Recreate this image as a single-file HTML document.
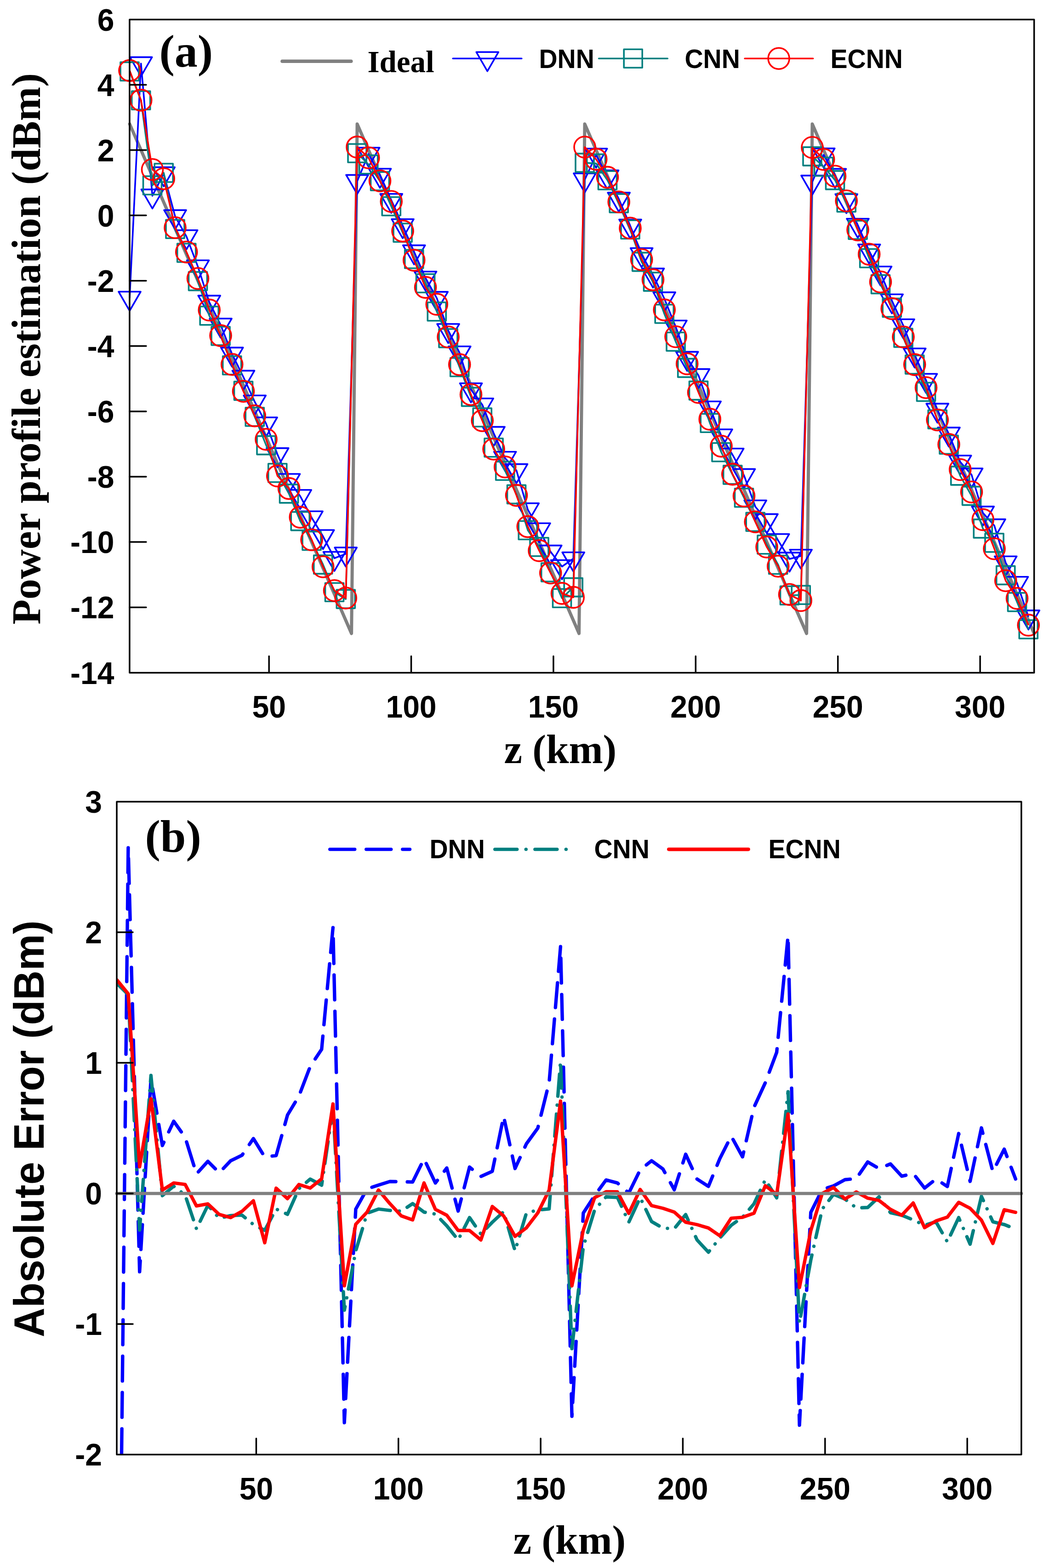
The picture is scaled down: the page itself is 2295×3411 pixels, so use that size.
<!DOCTYPE html>
<html><head><meta charset="utf-8"><title>Power profile estimation</title>
<style>html,body{margin:0;padding:0;background:#fff;}svg{display:block;}</style></head>
<body><svg width="2295" height="3411" viewBox="0 0 2295 3411"><polyline fill="none" stroke="#808080" stroke-width="7" stroke-linejoin="round" stroke-linecap="round" points="282.0,269.7 764.6,1378.0 777.0,269.7 1259.6,1378.0 1272.0,269.7 1754.6,1378.0 1767.0,269.7 2249.6,1378.0"/>
<polyline fill="none" stroke="#0000ff" stroke-width="3.6" stroke-linejoin="round" points="282.0,648.4 306.7,138.2 331.5,426.0 356.2,377.7 381.0,470.9 405.7,514.6 430.5,580.1 455.2,657.0 480.0,706.9 504.7,770.0 529.5,820.3 554.2,874.2 579.0,921.9 603.7,988.8 628.5,1044.8 653.2,1079.6 678.0,1126.2 702.7,1166.8 727.5,1214.3 752.2,1204.9 777.0,394.4 801.7,335.0 826.5,380.9 851.2,435.6 876.0,490.6 900.7,547.5 925.5,604.5 950.2,648.7 975.0,718.7 999.7,767.4 1024.5,847.7 1049.2,880.5 1074.0,942.5 1098.7,996.6 1123.5,1023.5 1148.2,1108.7 1173.0,1152.1 1197.7,1200.4 1222.5,1232.4 1247.2,1215.3 1272.0,390.9 1296.7,337.2 1321.5,384.5 1346.2,432.9 1371.0,491.3 1395.7,553.6 1420.5,597.9 1445.2,649.8 1470.0,711.1 1494.7,779.2 1519.5,816.7 1544.2,887.1 1569.0,947.9 1593.7,989.7 1618.5,1034.2 1643.2,1102.4 1668.0,1132.3 1692.7,1175.7 1717.5,1216.0 1742.2,1209.5 1767.0,395.8 1791.7,336.8 1816.5,381.2 1841.2,436.1 1866.0,489.6 1890.7,545.8 1915.5,593.6 1940.2,654.0 1965.0,708.3 1989.7,771.8 2014.5,827.2 2039.2,892.0 2064.0,943.9 2088.7,1004.8 2113.5,1032.8 2138.2,1115.7 2163.0,1143.4 2187.7,1224.1 2212.5,1268.7 2237.2,1341.8"/>
<path fill="none" stroke="#0000ff" stroke-width="3.6" stroke-linejoin="round" d="M258.0,634.5L306.0,634.5L282.0,676.1ZM282.7,124.4L330.7,124.4L306.7,165.9ZM307.5,412.1L355.5,412.1L331.5,453.7ZM332.2,363.8L380.2,363.8L356.2,405.4ZM357.0,457.1L405.0,457.1L381.0,498.7ZM381.7,500.7L429.7,500.7L405.7,542.3ZM406.5,566.3L454.5,566.3L430.5,607.9ZM431.2,643.1L479.2,643.1L455.2,684.7ZM456.0,693.0L504.0,693.0L480.0,734.6ZM480.7,756.1L528.7,756.1L504.7,797.7ZM505.5,806.4L553.5,806.4L529.5,848.0ZM530.2,860.3L578.2,860.3L554.2,901.9ZM555.0,908.0L603.0,908.0L579.0,949.6ZM579.7,974.9L627.7,974.9L603.7,1016.5ZM604.5,1031.0L652.5,1031.0L628.5,1072.5ZM629.2,1065.8L677.2,1065.8L653.2,1107.3ZM654.0,1112.3L702.0,1112.3L678.0,1153.9ZM678.7,1153.0L726.7,1153.0L702.7,1194.5ZM703.5,1200.5L751.5,1200.5L727.5,1242.1ZM728.2,1191.0L776.2,1191.0L752.2,1232.6ZM753.0,380.6L801.0,380.6L777.0,422.1ZM777.7,321.2L825.7,321.2L801.7,362.7ZM802.5,367.0L850.5,367.0L826.5,408.6ZM827.2,421.8L875.2,421.8L851.2,463.3ZM852.0,476.7L900.0,476.7L876.0,518.3ZM876.7,533.6L924.7,533.6L900.7,575.2ZM901.5,590.7L949.5,590.7L925.5,632.2ZM926.2,634.9L974.2,634.9L950.2,676.4ZM951.0,704.8L999.0,704.8L975.0,746.4ZM975.7,753.5L1023.7,753.5L999.7,795.1ZM1000.5,833.8L1048.5,833.8L1024.5,875.4ZM1025.2,866.7L1073.2,866.7L1049.2,908.3ZM1050.0,928.6L1098.0,928.6L1074.0,970.2ZM1074.7,982.7L1122.7,982.7L1098.7,1024.3ZM1099.5,1009.6L1147.5,1009.6L1123.5,1051.2ZM1124.2,1094.8L1172.2,1094.8L1148.2,1136.4ZM1149.0,1138.2L1197.0,1138.2L1173.0,1179.8ZM1173.7,1186.6L1221.7,1186.6L1197.7,1228.1ZM1198.5,1218.5L1246.5,1218.5L1222.5,1260.1ZM1223.2,1201.5L1271.2,1201.5L1247.2,1243.0ZM1248.0,377.1L1296.0,377.1L1272.0,418.7ZM1272.7,323.3L1320.7,323.3L1296.7,364.9ZM1297.5,370.6L1345.5,370.6L1321.5,412.2ZM1322.2,419.0L1370.2,419.0L1346.2,460.6ZM1347.0,477.5L1395.0,477.5L1371.0,519.0ZM1371.7,539.8L1419.7,539.8L1395.7,581.4ZM1396.5,584.1L1444.5,584.1L1420.5,625.6ZM1421.2,635.9L1469.2,635.9L1445.2,677.5ZM1446.0,697.2L1494.0,697.2L1470.0,738.8ZM1470.7,765.4L1518.7,765.4L1494.7,806.9ZM1495.5,802.9L1543.5,802.9L1519.5,844.5ZM1520.2,873.2L1568.2,873.2L1544.2,914.8ZM1545.0,934.0L1593.0,934.0L1569.0,975.6ZM1569.7,975.8L1617.7,975.8L1593.7,1017.4ZM1594.5,1020.4L1642.5,1020.4L1618.5,1061.9ZM1619.2,1088.5L1667.2,1088.5L1643.2,1130.1ZM1644.0,1118.4L1692.0,1118.4L1668.0,1160.0ZM1668.7,1161.8L1716.7,1161.8L1692.7,1203.4ZM1693.5,1202.1L1741.5,1202.1L1717.5,1243.7ZM1718.2,1195.7L1766.2,1195.7L1742.2,1237.2ZM1743.0,381.9L1791.0,381.9L1767.0,423.5ZM1767.7,322.9L1815.7,322.9L1791.7,364.5ZM1792.5,367.4L1840.5,367.4L1816.5,408.9ZM1817.2,422.2L1865.2,422.2L1841.2,463.8ZM1842.0,475.7L1890.0,475.7L1866.0,517.3ZM1866.7,531.9L1914.7,531.9L1890.7,573.5ZM1891.5,579.7L1939.5,579.7L1915.5,621.3ZM1916.2,640.2L1964.2,640.2L1940.2,681.8ZM1941.0,694.5L1989.0,694.5L1965.0,736.0ZM1965.7,758.0L2013.7,758.0L1989.7,799.6ZM1990.5,813.3L2038.5,813.3L2014.5,854.9ZM2015.2,878.1L2063.2,878.1L2039.2,919.7ZM2040.0,930.1L2088.0,930.1L2064.0,971.6ZM2064.7,991.0L2112.7,991.0L2088.7,1032.5ZM2089.5,1019.0L2137.5,1019.0L2113.5,1060.5ZM2114.2,1101.9L2162.2,1101.9L2138.2,1143.4ZM2139.0,1129.6L2187.0,1129.6L2163.0,1171.1ZM2163.7,1210.2L2211.7,1210.2L2187.7,1251.8ZM2188.5,1254.8L2236.5,1254.8L2212.5,1296.4ZM2213.2,1327.9L2261.2,1327.9L2237.2,1369.5Z"/>
<polyline fill="none" stroke="#008080" stroke-width="3.6" stroke-linejoin="round" points="282.0,155.4 306.7,218.3 331.5,403.2 356.2,376.0 381.0,498.2 405.7,550.0 430.5,611.6 455.2,686.8 480.0,730.8 504.7,794.7 529.5,850.1 554.2,906.7 579.0,968.6 603.7,1028.7 628.5,1073.9 653.2,1133.6 678.0,1176.5 702.7,1228.1 727.5,1288.3 752.2,1303.1 777.0,333.2 801.7,357.8 826.5,394.1 851.2,448.7 876.0,506.3 900.7,563.5 925.5,616.2 950.2,677.7 975.0,735.6 999.7,798.8 1024.5,863.4 1049.2,908.0 1074.0,973.8 1098.7,1024.3 1123.5,1075.4 1148.2,1153.5 1173.0,1189.8 1197.7,1245.0 1222.5,1301.2 1247.2,1277.6 1272.0,354.1 1296.7,355.6 1321.5,392.2 1346.2,442.1 1371.0,499.2 1395.7,569.6 1420.5,612.9 1445.2,682.8 1470.0,743.3 1494.7,800.4 1519.5,849.6 1544.2,920.2 1569.0,983.7 1593.7,1032.9 1618.5,1082.8 1643.2,1135.2 1668.0,1184.8 1692.7,1228.5 1717.5,1295.2 1742.2,1294.3 1767.0,340.1 1791.7,362.7 1816.5,391.9 1841.2,440.7 1866.0,500.1 1890.7,561.7 1915.5,618.4 1940.2,669.4 1965.0,734.9 1989.7,793.1 2014.5,852.5 2039.2,912.2 2064.0,967.2 2088.7,1034.9 2113.5,1078.6 2138.2,1149.9 2163.0,1180.7 2187.7,1251.4 2212.5,1309.7 2237.2,1369.0"/>
<path fill="none" stroke="#008080" stroke-width="3.6" stroke-linejoin="round" d="M262.0,135.4h40v40h-40ZM286.7,198.3h40v40h-40ZM311.5,383.2h40v40h-40ZM336.2,356.0h40v40h-40ZM361.0,478.2h40v40h-40ZM385.7,530.0h40v40h-40ZM410.5,591.6h40v40h-40ZM435.2,666.8h40v40h-40ZM460.0,710.8h40v40h-40ZM484.7,774.7h40v40h-40ZM509.5,830.1h40v40h-40ZM534.2,886.7h40v40h-40ZM559.0,948.6h40v40h-40ZM583.7,1008.7h40v40h-40ZM608.5,1053.9h40v40h-40ZM633.2,1113.6h40v40h-40ZM658.0,1156.5h40v40h-40ZM682.7,1208.1h40v40h-40ZM707.5,1268.3h40v40h-40ZM732.2,1283.1h40v40h-40ZM757.0,313.2h40v40h-40ZM781.7,337.8h40v40h-40ZM806.5,374.1h40v40h-40ZM831.2,428.7h40v40h-40ZM856.0,486.3h40v40h-40ZM880.7,543.5h40v40h-40ZM905.5,596.2h40v40h-40ZM930.2,657.7h40v40h-40ZM955.0,715.6h40v40h-40ZM979.7,778.8h40v40h-40ZM1004.5,843.4h40v40h-40ZM1029.2,888.0h40v40h-40ZM1054.0,953.8h40v40h-40ZM1078.7,1004.3h40v40h-40ZM1103.5,1055.4h40v40h-40ZM1128.2,1133.5h40v40h-40ZM1153.0,1169.8h40v40h-40ZM1177.7,1225.0h40v40h-40ZM1202.5,1281.2h40v40h-40ZM1227.2,1257.6h40v40h-40ZM1252.0,334.1h40v40h-40ZM1276.7,335.6h40v40h-40ZM1301.5,372.2h40v40h-40ZM1326.2,422.1h40v40h-40ZM1351.0,479.2h40v40h-40ZM1375.7,549.6h40v40h-40ZM1400.5,592.9h40v40h-40ZM1425.2,662.8h40v40h-40ZM1450.0,723.3h40v40h-40ZM1474.7,780.4h40v40h-40ZM1499.5,829.6h40v40h-40ZM1524.2,900.2h40v40h-40ZM1549.0,963.7h40v40h-40ZM1573.7,1012.9h40v40h-40ZM1598.5,1062.8h40v40h-40ZM1623.2,1115.2h40v40h-40ZM1648.0,1164.8h40v40h-40ZM1672.7,1208.5h40v40h-40ZM1697.5,1275.2h40v40h-40ZM1722.2,1274.3h40v40h-40ZM1747.0,320.1h40v40h-40ZM1771.7,342.7h40v40h-40ZM1796.5,371.9h40v40h-40ZM1821.2,420.7h40v40h-40ZM1846.0,480.1h40v40h-40ZM1870.7,541.7h40v40h-40ZM1895.5,598.4h40v40h-40ZM1920.2,649.4h40v40h-40ZM1945.0,714.9h40v40h-40ZM1969.7,773.1h40v40h-40ZM1994.5,832.5h40v40h-40ZM2019.2,892.2h40v40h-40ZM2044.0,947.2h40v40h-40ZM2068.7,1014.9h40v40h-40ZM2093.5,1058.6h40v40h-40ZM2118.2,1129.9h40v40h-40ZM2143.0,1160.7h40v40h-40ZM2167.7,1231.4h40v40h-40ZM2192.5,1289.7h40v40h-40ZM2217.2,1349.0h40v40h-40Z"/>
<polyline fill="none" stroke="#ff0000" stroke-width="3.6" stroke-linejoin="round" points="282.0,153.5 306.7,217.9 331.5,368.8 356.2,388.7 381.0,495.2 405.7,548.2 430.5,605.8 455.2,674.4 480.0,730.1 504.7,792.7 529.5,851.2 554.2,904.6 579.0,955.7 603.7,1035.4 628.5,1062.6 653.2,1125.1 678.0,1174.3 702.7,1233.0 727.5,1284.8 752.2,1301.0 777.0,319.9 801.7,343.3 826.5,393.5 851.2,438.3 876.0,502.6 900.7,566.1 925.5,625.1 950.2,661.9 975.0,733.0 999.7,793.1 1024.5,858.2 1049.2,915.1 1074.0,977.0 1098.7,1015.7 1123.5,1077.6 1148.2,1145.6 1173.0,1197.9 1197.7,1246.5 1222.5,1290.9 1247.2,1299.4 1272.0,320.0 1296.7,346.4 1321.5,385.6 1346.2,439.3 1371.0,496.2 1395.7,564.7 1420.5,608.6 1445.2,674.1 1470.0,732.5 1494.7,791.4 1519.5,853.8 1544.2,911.9 1569.0,970.6 1593.7,1031.6 1618.5,1078.9 1643.2,1135.3 1668.0,1189.9 1692.7,1231.7 1717.5,1293.3 1742.2,1306.4 1767.0,320.8 1791.7,346.7 1816.5,383.3 1841.2,437.0 1866.0,500.1 1890.7,553.1 1915.5,613.3 1940.2,671.4 1965.0,733.0 1989.7,793.1 2014.5,843.2 2039.2,913.5 2064.0,966.7 2088.7,1021.5 2113.5,1070.3 2138.2,1130.4 2163.0,1193.7 2187.7,1263.2 2212.5,1301.7 2237.2,1359.9"/>
<g fill="none" stroke="#ff0000" stroke-width="3.6"><circle cx="282.0" cy="153.5" r="23"/><circle cx="306.7" cy="217.9" r="23"/><circle cx="331.5" cy="368.8" r="23"/><circle cx="356.2" cy="388.7" r="23"/><circle cx="381.0" cy="495.2" r="23"/><circle cx="405.7" cy="548.2" r="23"/><circle cx="430.5" cy="605.8" r="23"/><circle cx="455.2" cy="674.4" r="23"/><circle cx="480.0" cy="730.1" r="23"/><circle cx="504.7" cy="792.7" r="23"/><circle cx="529.5" cy="851.2" r="23"/><circle cx="554.2" cy="904.6" r="23"/><circle cx="579.0" cy="955.7" r="23"/><circle cx="603.7" cy="1035.4" r="23"/><circle cx="628.5" cy="1062.6" r="23"/><circle cx="653.2" cy="1125.1" r="23"/><circle cx="678.0" cy="1174.3" r="23"/><circle cx="702.7" cy="1233.0" r="23"/><circle cx="727.5" cy="1284.8" r="23"/><circle cx="752.2" cy="1301.0" r="23"/><circle cx="777.0" cy="319.9" r="23"/><circle cx="801.7" cy="343.3" r="23"/><circle cx="826.5" cy="393.5" r="23"/><circle cx="851.2" cy="438.3" r="23"/><circle cx="876.0" cy="502.6" r="23"/><circle cx="900.7" cy="566.1" r="23"/><circle cx="925.5" cy="625.1" r="23"/><circle cx="950.2" cy="661.9" r="23"/><circle cx="975.0" cy="733.0" r="23"/><circle cx="999.7" cy="793.1" r="23"/><circle cx="1024.5" cy="858.2" r="23"/><circle cx="1049.2" cy="915.1" r="23"/><circle cx="1074.0" cy="977.0" r="23"/><circle cx="1098.7" cy="1015.7" r="23"/><circle cx="1123.5" cy="1077.6" r="23"/><circle cx="1148.2" cy="1145.6" r="23"/><circle cx="1173.0" cy="1197.9" r="23"/><circle cx="1197.7" cy="1246.5" r="23"/><circle cx="1222.5" cy="1290.9" r="23"/><circle cx="1247.2" cy="1299.4" r="23"/><circle cx="1272.0" cy="320.0" r="23"/><circle cx="1296.7" cy="346.4" r="23"/><circle cx="1321.5" cy="385.6" r="23"/><circle cx="1346.2" cy="439.3" r="23"/><circle cx="1371.0" cy="496.2" r="23"/><circle cx="1395.7" cy="564.7" r="23"/><circle cx="1420.5" cy="608.6" r="23"/><circle cx="1445.2" cy="674.1" r="23"/><circle cx="1470.0" cy="732.5" r="23"/><circle cx="1494.7" cy="791.4" r="23"/><circle cx="1519.5" cy="853.8" r="23"/><circle cx="1544.2" cy="911.9" r="23"/><circle cx="1569.0" cy="970.6" r="23"/><circle cx="1593.7" cy="1031.6" r="23"/><circle cx="1618.5" cy="1078.9" r="23"/><circle cx="1643.2" cy="1135.3" r="23"/><circle cx="1668.0" cy="1189.9" r="23"/><circle cx="1692.7" cy="1231.7" r="23"/><circle cx="1717.5" cy="1293.3" r="23"/><circle cx="1742.2" cy="1306.4" r="23"/><circle cx="1767.0" cy="320.8" r="23"/><circle cx="1791.7" cy="346.7" r="23"/><circle cx="1816.5" cy="383.3" r="23"/><circle cx="1841.2" cy="437.0" r="23"/><circle cx="1866.0" cy="500.1" r="23"/><circle cx="1890.7" cy="553.1" r="23"/><circle cx="1915.5" cy="613.3" r="23"/><circle cx="1940.2" cy="671.4" r="23"/><circle cx="1965.0" cy="733.0" r="23"/><circle cx="1989.7" cy="793.1" r="23"/><circle cx="2014.5" cy="843.2" r="23"/><circle cx="2039.2" cy="913.5" r="23"/><circle cx="2064.0" cy="966.7" r="23"/><circle cx="2088.7" cy="1021.5" r="23"/><circle cx="2113.5" cy="1070.3" r="23"/><circle cx="2138.2" cy="1130.4" r="23"/><circle cx="2163.0" cy="1193.7" r="23"/><circle cx="2187.7" cy="1263.2" r="23"/><circle cx="2212.5" cy="1301.7" r="23"/><circle cx="2237.2" cy="1359.9" r="23"/></g>
<rect x="281.9" y="42.6" width="1967.7" height="1420.8" fill="none" stroke="#000" stroke-width="3.5" stroke-linejoin="round"/>
<path stroke="#000" stroke-width="3.5" stroke-linecap="round" d="M281.9,1321.2h36M281.9,1179.1h36M281.9,1037.0h36M281.9,894.9h36M281.9,752.8h36M281.9,610.7h36M281.9,468.6h36M281.9,326.5h36M281.9,184.4h36M585.2,1463.4v-36M894.5,1463.4v-36M1203.9,1463.4v-36M1513.3,1463.4v-36M1822.7,1463.4v-36M2132.1,1463.4v-36"/>
<text transform="translate(248.5,1487.5) scale(1,1.05)" text-anchor="end" font-family="&apos;Liberation Sans&apos;, Arial, sans-serif" font-weight="bold" font-size="66">-14</text>
<text transform="translate(248.5,1345.4) scale(1,1.05)" text-anchor="end" font-family="&apos;Liberation Sans&apos;, Arial, sans-serif" font-weight="bold" font-size="66">-12</text>
<text transform="translate(248.5,1203.3) scale(1,1.05)" text-anchor="end" font-family="&apos;Liberation Sans&apos;, Arial, sans-serif" font-weight="bold" font-size="66">-10</text>
<text transform="translate(248.5,1061.2) scale(1,1.05)" text-anchor="end" font-family="&apos;Liberation Sans&apos;, Arial, sans-serif" font-weight="bold" font-size="66">-8</text>
<text transform="translate(248.5,919.1) scale(1,1.05)" text-anchor="end" font-family="&apos;Liberation Sans&apos;, Arial, sans-serif" font-weight="bold" font-size="66">-6</text>
<text transform="translate(248.5,777.0) scale(1,1.05)" text-anchor="end" font-family="&apos;Liberation Sans&apos;, Arial, sans-serif" font-weight="bold" font-size="66">-4</text>
<text transform="translate(248.5,634.9) scale(1,1.05)" text-anchor="end" font-family="&apos;Liberation Sans&apos;, Arial, sans-serif" font-weight="bold" font-size="66">-2</text>
<text transform="translate(248.5,492.8) scale(1,1.05)" text-anchor="end" font-family="&apos;Liberation Sans&apos;, Arial, sans-serif" font-weight="bold" font-size="66">0</text>
<text transform="translate(248.5,350.7) scale(1,1.05)" text-anchor="end" font-family="&apos;Liberation Sans&apos;, Arial, sans-serif" font-weight="bold" font-size="66">2</text>
<text transform="translate(248.5,208.6) scale(1,1.05)" text-anchor="end" font-family="&apos;Liberation Sans&apos;, Arial, sans-serif" font-weight="bold" font-size="66">4</text>
<text transform="translate(248.5,66.5) scale(1,1.05)" text-anchor="end" font-family="&apos;Liberation Sans&apos;, Arial, sans-serif" font-weight="bold" font-size="66">6</text>
<text transform="translate(585.2,1560.5) scale(1,1.05)" text-anchor="middle" font-family="&apos;Liberation Sans&apos;, Arial, sans-serif" font-weight="bold" font-size="66">50</text>
<text transform="translate(894.5,1560.5) scale(1,1.05)" text-anchor="middle" font-family="&apos;Liberation Sans&apos;, Arial, sans-serif" font-weight="bold" font-size="66">100</text>
<text transform="translate(1203.9,1560.5) scale(1,1.05)" text-anchor="middle" font-family="&apos;Liberation Sans&apos;, Arial, sans-serif" font-weight="bold" font-size="66">150</text>
<text transform="translate(1513.3,1560.5) scale(1,1.05)" text-anchor="middle" font-family="&apos;Liberation Sans&apos;, Arial, sans-serif" font-weight="bold" font-size="66">200</text>
<text transform="translate(1822.7,1560.5) scale(1,1.05)" text-anchor="middle" font-family="&apos;Liberation Sans&apos;, Arial, sans-serif" font-weight="bold" font-size="66">250</text>
<text transform="translate(2132.1,1560.5) scale(1,1.05)" text-anchor="middle" font-family="&apos;Liberation Sans&apos;, Arial, sans-serif" font-weight="bold" font-size="66">300</text>
<text x="1096.5" y="1660.4" text-anchor="start" font-family="&apos;Liberation Serif&apos;, &apos;Times New Roman&apos;, serif" font-weight="bold" font-size="89">z (km)</text>
<text transform="translate(86.6,1358.6) rotate(-90)" font-family="&apos;Liberation Serif&apos;, &apos;Times New Roman&apos;, serif" font-weight="bold" font-size="89.3">Power profile estimation (dBm)</text>
<text x="346.5" y="144.8" text-anchor="start" font-family="&apos;Liberation Serif&apos;, &apos;Times New Roman&apos;, serif" font-weight="bold" font-size="100">(a)</text>
<path stroke="#808080" stroke-width="7.6" stroke-linecap="round" d="M614,133.2H763.7"/>
<text x="799.5" y="156.9" text-anchor="start" font-family="&apos;Liberation Serif&apos;, &apos;Times New Roman&apos;, serif" font-weight="bold" font-size="67">Ideal</text>
<path stroke="#0000ff" stroke-width="3.6" stroke-linecap="round" d="M985.3,127.2H1134.7"/>
<path fill="none" stroke="#0000ff" stroke-width="3.6" stroke-linejoin="round" d="M1036.2,113.3L1084.2,113.3L1060.2,154.9Z"/>
<text transform="translate(1172.5,147.5) scale(1,1.05)" text-anchor="start" font-family="&apos;Liberation Sans&apos;, Arial, sans-serif" font-weight="bold" font-size="55.5">DNN</text>
<path stroke="#008080" stroke-width="3.6" stroke-linecap="round" d="M1302.7,127.2H1452.2"/>
<path fill="none" stroke="#008080" stroke-width="3.6" stroke-linejoin="round" d="M1357.2,107.2h40v40h-40Z"/>
<text transform="translate(1489.5,147.5) scale(1,1.05)" text-anchor="start" font-family="&apos;Liberation Sans&apos;, Arial, sans-serif" font-weight="bold" font-size="55.5">CNN</text>
<path stroke="#ff0000" stroke-width="3.6" stroke-linecap="round" d="M1620.2,127.2H1768.6"/>
<circle cx="1694.1" cy="127.2" r="23" fill="none" stroke="#ff0000" stroke-width="3.6"/>
<text transform="translate(1806.6,147.5) scale(1,1.05)" text-anchor="start" font-family="&apos;Liberation Sans&apos;, Arial, sans-serif" font-weight="bold" font-size="55.5">ECNN</text>
<defs><clipPath id="cb"><rect x="254.0" y="1744.0" width="1967.8" height="1420.2"/></clipPath></defs>
<g clip-path="url(#cb)" fill="none" stroke-linejoin="round" stroke-linecap="round" stroke-width="7.4">
<polyline stroke="#0000ff" stroke-dasharray="54 25" points="254.2,4110.1 278.9,1843.4 303.7,2766.6 328.4,2346.2 353.2,2491.9 377.9,2439.1 402.7,2474.0 427.4,2553.8 452.2,2526.3 476.9,2551.3 501.7,2525.1 526.4,2513.2 551.2,2476.8 575.9,2516.9 600.7,2513.8 625.4,2425.7 650.2,2384.5 674.9,2319.8 699.7,2282.6 724.4,2017.5 749.1,3094.9 773.9,2630.2 798.6,2586.2 823.4,2578.0 848.1,2570.3 872.9,2570.6 897.6,2571.4 922.4,2520.9 947.1,2573.4 971.9,2540.8 996.6,2634.5 1021.4,2538.8 1046.1,2559.2 1070.9,2548.1 1095.6,2428.6 1120.4,2541.9 1145.1,2488.2 1169.9,2454.1 1194.6,2354.7 1219.4,2059.3 1244.1,3081.0 1268.9,2638.8 1293.6,2600.7 1318.4,2566.9 1343.1,2573.4 1367.8,2595.3 1392.6,2545.0 1417.3,2525.1 1442.1,2543.0 1466.8,2588.2 1491.6,2510.9 1516.3,2564.9 1541.1,2580.8 1565.8,2520.6 1590.6,2471.5 1615.3,2516.6 1640.1,2409.0 1664.8,2355.3 1689.6,2289.1 1714.3,2036.0 1739.1,3100.3 1763.8,2637.3 1788.6,2587.6 1813.3,2579.7 1838.1,2566.3 1862.8,2563.8 1887.6,2527.7 1912.3,2542.2 1937.1,2532.0 1961.8,2558.7 1986.5,2552.7 2011.3,2584.5 2036.0,2564.9 2060.8,2581.1 2085.5,2465.8 2110.3,2570.0 2135.0,2453.6 2159.8,2548.7 2184.5,2499.9 2209.3,2564.9"/>
<polyline stroke="#008080" stroke-dasharray="48 19.5 0.1 19.5" points="254.2,2139.4 278.9,2163.5 303.7,2675.7 328.4,2339.4 353.2,2601.0 377.9,2580.5 402.7,2599.8 427.4,2673.1 452.2,2622.0 476.9,2650.1 501.7,2644.4 526.4,2643.3 551.2,2663.8 575.9,2676.5 600.7,2630.0 625.4,2641.6 650.2,2585.9 674.9,2564.9 699.7,2578.3 724.4,2410.1 749.1,2850.1 773.9,2721.1 798.6,2639.3 823.4,2630.2 848.1,2633.1 872.9,2634.8 897.6,2618.3 922.4,2636.8 947.1,2641.0 971.9,2666.6 996.6,2697.3 1021.4,2648.7 1046.1,2684.5 1070.9,2658.9 1095.6,2635.9 1120.4,2721.1 1145.1,2638.8 1169.9,2632.2 1194.6,2629.7 1219.4,2308.4 1244.1,2933.9 1268.9,2712.6 1293.6,2631.7 1318.4,2603.8 1343.1,2604.7 1367.8,2658.9 1392.6,2605.0 1417.3,2657.2 1442.1,2671.7 1466.8,2672.8 1491.6,2642.2 1516.3,2697.3 1541.1,2724.0 1565.8,2693.3 1590.6,2665.5 1615.3,2647.8 1640.1,2618.9 1664.8,2566.3 1689.6,2605.8 1714.3,2374.9 1739.1,2877.9 1763.8,2741.0 1788.6,2630.2 1813.3,2598.1 1838.1,2608.4 1862.8,2627.7 1887.6,2626.8 1912.3,2603.5 1937.1,2638.2 1961.8,2643.6 1986.5,2653.8 2011.3,2665.5 2036.0,2657.8 2060.8,2701.5 2085.5,2648.7 2110.3,2706.6 2135.0,2602.4 2159.8,2657.8 2184.5,2663.8 2209.3,2673.7"/>
<polyline stroke="#ff0000" points="254.2,2131.7 278.9,2161.8 303.7,2538.2 328.4,2390.2 353.2,2588.8 377.9,2573.4 402.7,2576.6 427.4,2623.4 452.2,2618.9 476.9,2641.9 501.7,2648.7 526.4,2635.1 551.2,2612.1 575.9,2703.5 600.7,2584.8 625.4,2607.5 650.2,2576.8 674.9,2584.5 699.7,2564.3 724.4,2401.6 749.1,2797.0 773.9,2663.2 798.6,2636.8 823.4,2588.8 848.1,2618.3 872.9,2645.0 897.6,2653.8 922.4,2573.4 947.1,2630.8 971.9,2643.6 996.6,2676.8 1021.4,2676.8 1046.1,2697.3 1070.9,2624.6 1095.6,2645.0 1120.4,2689.6 1145.1,2671.1 1169.9,2638.5 1194.6,2588.8 1219.4,2395.3 1244.1,2797.3 1268.9,2675.7 1293.6,2605.2 1318.4,2592.5 1343.1,2592.7 1367.8,2639.6 1392.6,2587.6 1417.3,2622.6 1442.1,2628.5 1466.8,2636.8 1491.6,2658.9 1516.3,2664.0 1541.1,2671.4 1565.8,2688.2 1590.6,2650.1 1615.3,2648.1 1640.1,2639.3 1664.8,2579.4 1689.6,2598.4 1714.3,2423.4 1739.1,2800.7 1763.8,2677.1 1788.6,2596.2 1813.3,2583.4 1838.1,2608.4 1862.8,2593.0 1887.6,2606.4 1912.3,2611.5 1937.1,2630.8 1961.8,2643.6 1986.5,2616.9 2011.3,2670.6 2036.0,2656.1 2060.8,2647.8 2085.5,2615.5 2110.3,2628.5 2135.0,2654.4 2159.8,2704.9 2184.5,2631.7 2209.3,2637.3"/>
</g>
<path stroke="#808080" stroke-width="7.1" stroke-linecap="round" d="M254.0,2596.2H2221.8"/>
<rect x="254.0" y="1744.0" width="1967.8" height="1420.2" fill="none" stroke="#000" stroke-width="3.5" stroke-linejoin="round"/>
<path stroke="#000" stroke-width="3.5" stroke-linecap="round" d="M254.0,2880.2h35M254.0,2596.2h35M254.0,2312.1h35M254.0,2028.0h35M557.4,3164.2v-35M866.7,3164.2v-35M1176.1,3164.2v-35M1485.4,3164.2v-35M1794.8,3164.2v-35M2104.1,3164.2v-35"/>
<text transform="translate(222.0,3188.4) scale(1,1.05)" text-anchor="end" font-family="&apos;Liberation Sans&apos;, Arial, sans-serif" font-weight="bold" font-size="66">-2</text>
<text transform="translate(222.0,2904.4) scale(1,1.05)" text-anchor="end" font-family="&apos;Liberation Sans&apos;, Arial, sans-serif" font-weight="bold" font-size="66">-1</text>
<text transform="translate(222.0,2620.3) scale(1,1.05)" text-anchor="end" font-family="&apos;Liberation Sans&apos;, Arial, sans-serif" font-weight="bold" font-size="66">0</text>
<text transform="translate(222.0,2336.3) scale(1,1.05)" text-anchor="end" font-family="&apos;Liberation Sans&apos;, Arial, sans-serif" font-weight="bold" font-size="66">1</text>
<text transform="translate(222.0,2052.2) scale(1,1.05)" text-anchor="end" font-family="&apos;Liberation Sans&apos;, Arial, sans-serif" font-weight="bold" font-size="66">2</text>
<text transform="translate(222.0,1768.2) scale(1,1.05)" text-anchor="end" font-family="&apos;Liberation Sans&apos;, Arial, sans-serif" font-weight="bold" font-size="66">3</text>
<text transform="translate(557.4,3261.5) scale(1,1.05)" text-anchor="middle" font-family="&apos;Liberation Sans&apos;, Arial, sans-serif" font-weight="bold" font-size="66">50</text>
<text transform="translate(866.7,3261.5) scale(1,1.05)" text-anchor="middle" font-family="&apos;Liberation Sans&apos;, Arial, sans-serif" font-weight="bold" font-size="66">100</text>
<text transform="translate(1176.1,3261.5) scale(1,1.05)" text-anchor="middle" font-family="&apos;Liberation Sans&apos;, Arial, sans-serif" font-weight="bold" font-size="66">150</text>
<text transform="translate(1485.4,3261.5) scale(1,1.05)" text-anchor="middle" font-family="&apos;Liberation Sans&apos;, Arial, sans-serif" font-weight="bold" font-size="66">200</text>
<text transform="translate(1794.8,3261.5) scale(1,1.05)" text-anchor="middle" font-family="&apos;Liberation Sans&apos;, Arial, sans-serif" font-weight="bold" font-size="66">250</text>
<text transform="translate(2104.1,3261.5) scale(1,1.05)" text-anchor="middle" font-family="&apos;Liberation Sans&apos;, Arial, sans-serif" font-weight="bold" font-size="66">300</text>
<text x="1116.5" y="3380.0" text-anchor="start" font-family="&apos;Liberation Serif&apos;, &apos;Times New Roman&apos;, serif" font-weight="bold" font-size="89">z (km)</text>
<text transform="translate(94.7,2908.9) rotate(-90) scale(1,1.036)" font-family="&apos;Liberation Sans&apos;, Arial, sans-serif" font-weight="bold" font-size="89.2">Absolute Error (dBm)</text>
<text x="315.5" y="1853.0" text-anchor="start" font-family="&apos;Liberation Serif&apos;, &apos;Times New Roman&apos;, serif" font-weight="bold" font-size="100">(b)</text>
<path stroke="#0000ff" stroke-width="7.4" stroke-linecap="round" stroke-dasharray="54 25" d="M717.7,1847.6H891.5"/>
<text transform="translate(934.5,1867.4) scale(1,1.05)" text-anchor="start" font-family="&apos;Liberation Sans&apos;, Arial, sans-serif" font-weight="bold" font-size="55.5">DNN</text>
<path stroke="#008080" stroke-width="7.4" stroke-linecap="round" stroke-dasharray="48 19.5 0.1 19.5" d="M1076.7,1847.6H1231.5"/>
<text transform="translate(1292.5,1867.4) scale(1,1.05)" text-anchor="start" font-family="&apos;Liberation Sans&apos;, Arial, sans-serif" font-weight="bold" font-size="55.5">CNN</text>
<path stroke="#ff0000" stroke-width="7.6" stroke-linecap="round" d="M1454.8,1847.6H1628"/>
<text transform="translate(1671.5,1867.4) scale(1,1.05)" text-anchor="start" font-family="&apos;Liberation Sans&apos;, Arial, sans-serif" font-weight="bold" font-size="55.5">ECNN</text></svg></body></html>
